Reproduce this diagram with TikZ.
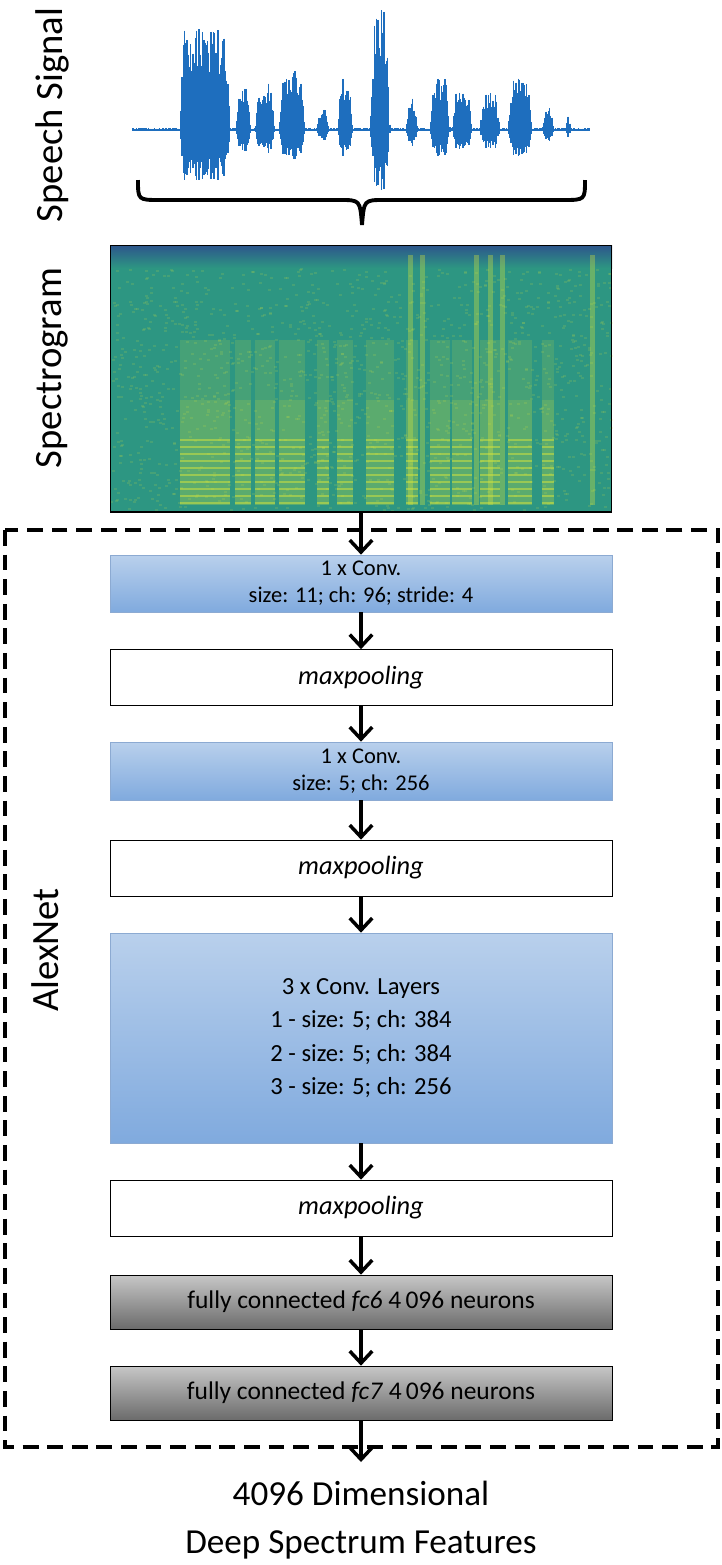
\documentclass[tikz,border=0pt]{standalone}
\usepackage{fontspec}
\setmainfont{Carlito}
\usetikzlibrary{arrows.meta,decorations.pathreplacing}
\definecolor{wave}{RGB}{30,110,190}
\definecolor{specbase}{RGB}{45,150,130}
\definecolor{spectop}{RGB}{45,85,140}
\definecolor{specyel}{RGB}{215,230,60}
\definecolor{blueT}{RGB}{185,208,236}
\definecolor{blueB}{RGB}{128,170,222}
\definecolor{blueD}{RGB}{140,170,210}
\tikzset{
  conv/.style={draw=blueD,top color=blueT,bottom color=blueB,minimum width=10.04cm,align=center,font=\fontsize{12.8}{15.5}\selectfont,inner sep=0pt},
  pool/.style={draw=black,fill=white,minimum width=10.04cm,minimum height=1.12cm,font=\fontsize{15}{18}\selectfont\itshape,inner sep=0pt},
  fc/.style={draw=black,top color=black!22,bottom color=black!58,minimum width=10.04cm,minimum height=1.08cm,font=\fontsize{14.5}{18}\selectfont,inner sep=0pt},
  arr/.style={line width=2pt,-{Straight Barb[length=2.4mm,width=4.5mm]}},
  big/.style={font=\fontsize{22}{26}\selectfont},
  declare function={plat(\x,\c,\w)=min(1,max(0,(\w-abs(\x-\c))/4));}
}
\begin{document}
\begin{tikzpicture}[x=0.02cm,y=-0.02cm]
\useasboundingbox (0,0) rectangle (722,1565);
\pgfmathsetseed{7}
% labels
\node[big,rotate=90] (lsig) at (52,115) {Speech Signal};
\node[big,rotate=90] (lspec) at (52,368) {Spectrogram};
\node[big,rotate=90] (lalex) at (45,950) {AlexNet};
% waveform
\draw[wave,line width=0.6pt] (133,130) -- (590,130);
\foreach \i in {0,...,380}{
  \pgfmathsetmacro\xx{133+\i*1.2}
  \pgfmathsetmacro\a{2+100*plat(\xx,205,25)+45*plat(\xx,243,8)+45*plat(\xx,265,10)+60*plat(\xx,292,13)+25*plat(\xx,323,6)+50*plat(\xx,345,8)+118*plat(\xx,380,10)+30*plat(\xx,412,6)+50*plat(\xx,440,10)+40*plat(\xx,462,10)+35*plat(\xx,490,10)+50*plat(\xx,520,12)+20*plat(\xx,548,6)+22*plat(\xx,568,3)}
  \pgfmathsetmacro\r{0.55+0.45*rnd}
  \draw[wave,line width=0.8pt] (\xx,{130-\a*\r}) -- (\xx,{130+\a*\r*0.5});
}
% brace
\draw[line width=2.2pt] (138,180) .. controls (138,200) .. (160,200) -- (340,200) .. controls (360,200) .. (362,225) .. controls (364,200) .. (384,200) -- (563,200) .. controls (585,200) .. (585,180);
% spectrogram
\fill[specbase] (110,245) rectangle (612,512);
\fill[top color=spectop,bottom color=specbase] (110,245) rectangle (612,268);
\foreach \i in {1,...,1500}{
  \pgfmathsetmacro\px{110+500*rnd}
  \pgfmathsetmacro\py{268+242*rnd}
  \fill[specyel,opacity=0.15] (\px,\py) rectangle ++(3,2);
}
\foreach \c/\w in {205/25,243/8,265/10,292/13,323/6,345/8,380/14,412/6,440/10,462/10,490/10,520/12,548/6}{
  \fill[specyel,opacity=0.15] (\c-\w,340) rectangle (\c+\w,505);
  \fill[specyel,opacity=0.15] (\c-\w,400) rectangle (\c+\w,505);
  \foreach \yy in {440,447,...,505}
    \draw[specyel,line width=1.6pt,opacity=0.5] (\c-\w,\yy) -- (\c+\w,\yy);
}
\foreach \xx in {408,420,474,488,500,590}
  \fill[specyel,opacity=0.35] (\xx,255) rectangle (\xx+5,505);
\node[draw=black,line width=0.6pt,minimum width=10.04cm,minimum height=5.34cm,inner sep=0pt] (spec) at (361,378.5) {};
% dashed box
\draw[line width=2pt,dash pattern=on 9pt off 5pt] (5,530) rectangle (718,1447);
% layers
\node[conv,minimum height=1.14cm] (c1) at (361,583.5) {1 x Conv.\\size: 11; ch: 96; stride: 4};
\node[pool] (p1) at (361,677.5) {maxpooling};
\node[conv,minimum height=1.16cm] (c2) at (361,771) {1 x Conv.\\size: 5; ch: 256};
\node[pool] (p2) at (361,868) {maxpooling};
\node[conv,minimum height=4.2cm,font=\fontsize{14}{19}\selectfont] (c3) at (361,1038) {3 x Conv. Layers\\1 - size: 5; ch: 384\\2 - size: 5; ch: 384\\3 - size: 5; ch: 256};
\node[pool] (p3) at (361,1208) {maxpooling};
\node[fc] (f6) at (361,1302) {fully connected \textit{fc6} 4\,096 neurons};
\node[fc] (f7) at (361,1393) {fully connected \textit{fc7} 4\,096 neurons};
\node[align=center,font=\fontsize{20}{27}\selectfont] (out) at (361,1520) {4096 Dimensional\\Deep Spectrum Features};
\coordinate (oe) at (361,1462);
\draw[arr] (spec.south) -- (c1.north);
\draw[arr] (c1) -- (p1);
\draw[arr] (p1) -- (c2);
\draw[arr] (c2) -- (p2);
\draw[arr] (p2) -- (c3);
\draw[arr] (c3) -- (p3);
\draw[arr] (p3) -- (f6);
\draw[arr] (f6) -- (f7);
\draw[arr] (f7.south) -- (oe);
\end{tikzpicture}
\end{document}
